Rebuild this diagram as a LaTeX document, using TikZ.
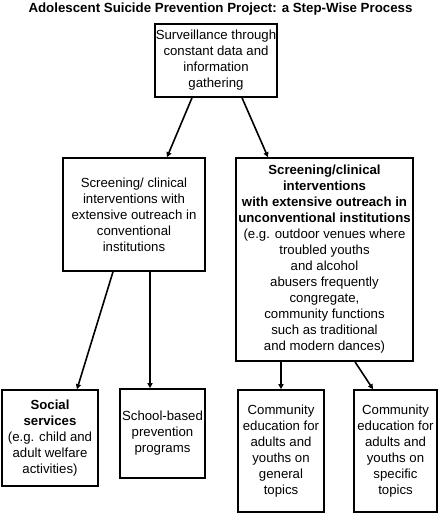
\documentclass[tikz,border=0pt]{standalone}
\usepackage{fontspec}
\setmainfont{Liberation Sans}
\usetikzlibrary{arrows.meta}
\tikzset{
  box/.style={draw, line width=1.6pt, align=center, inner sep=0pt,
    font=\fontsize{13.2pt}{16pt}\selectfont},
  conn/.style={line width=1.6pt, -{Triangle[length=5pt,width=5pt]}}
}
\begin{document}
\begin{tikzpicture}[x=1pt,y=1pt]
\useasboundingbox (0,0) rectangle (442,-513);
\node[anchor=base, font=\fontsize{13.3pt}{16pt}\selectfont\bfseries] (title) at (220.5,-13) {Adolescent Suicide Prevention Project: a Step-Wise Process};
\node[box, minimum width=122pt, minimum height=73pt] (top) at (216,-60.5) {Surveillance through\\constant data and\\information\\gathering};
\node[box, minimum width=142pt, minimum height=113pt] (lm) at (134,-214.5) {Screening/ clinical\\interventions with\\extensive outreach in\\conventional\\institutions};
\node[box, minimum width=177pt, minimum height=203pt] (rm) at (324.5,-259.5) {\textbf{Screening/clinical}\\\textbf{interventions}\\\textbf{with extensive outreach in}\\\textbf{unconventional institutions}\\(e.g. outdoor venues where\\troubled youths\\and alcohol\\abusers frequently\\congregate,\\community functions\\such as traditional\\and modern dances)};
\node[box, minimum width=96pt, minimum height=96pt] (b1) at (50,-438) {\textbf{Social}\\\textbf{services}\\(e.g. child and\\adult welfare\\activities)};
\node[box, minimum width=85pt, minimum height=89pt] (b2) at (162.5,-433.5) {School-based\\prevention\\programs};
\node[box, minimum width=86pt, minimum height=122pt] (b3) at (281,-451) {Community\\education for\\adults and\\youths on\\general\\topics};
\node[box, minimum width=83pt, minimum height=122pt] (b4) at (395.5,-451) {Community\\education for\\adults and\\youths on\\specific\\topics};
\draw[conn] ([xshift=-24pt]top.south) -- ([xshift=33pt]lm.north);
\draw[conn] ([xshift=26pt]top.south) -- ([xshift=-56.5pt]rm.north);
\draw[conn] ([xshift=-21pt]lm.south) -- ([xshift=27pt]b1.north);
\draw[conn] ([xshift=16pt]lm.south) -- ([xshift=-12.5pt]b2.north);
\draw[conn] ([xshift=-43.5pt]rm.south) -- (b3.north);
\draw[conn] ([xshift=30.5pt]rm.south) -- ([xshift=-22.5pt]b4.north);
\end{tikzpicture}
\end{document}
